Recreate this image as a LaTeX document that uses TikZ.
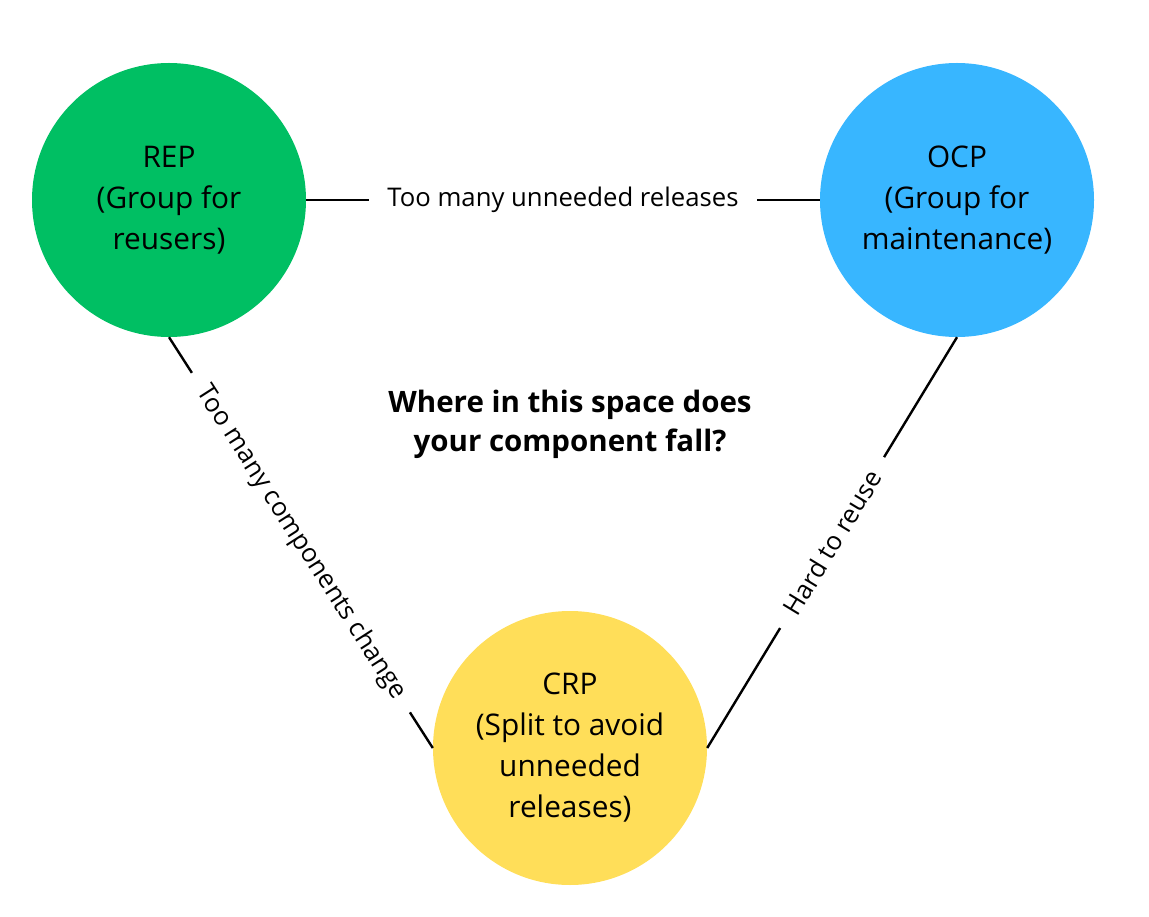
\documentclass[tikz,border=0pt]{standalone}
\usepackage{fontspec}
\setmainfont{Open Sans}
\definecolor{repgreen}{HTML}{00BF63}
\definecolor{ocpblue}{HTML}{38B6FF}
\definecolor{crpyellow}{HTML}{FFDE59}
\tikzset{
  principle/.style={circle, minimum size=274pt, inner sep=0pt, align=center,
    font=\fontsize{29.8}{41}\selectfont},
  link/.style={line width=2.4pt, black},
  linklabel/.style={fill=white, inner xsep=18pt, inner ysep=4pt,
    font=\fontsize{25.7}{30}\selectfont},
  question/.style={align=center, font=\fontsize{29.5}{39}\selectfont\bfseries}
}
\begin{document}
\begin{tikzpicture}[x=1pt,y=-1pt]
\useasboundingbox (0,0) rectangle (1149,917);
\node[principle, fill=repgreen] (rep) at (169,200) {REP\\(Group for\\reusers)};
\node[principle, fill=ocpblue] (ocp) at (957,200) {OCP\\(Group for\\maintenance)};
\node[principle, fill=crpyellow] (crp) at (570,748) {CRP\\(Split to avoid\\unneeded\\releases)};
\draw[link] (rep.east) -- node[linklabel] (l1) {Too many unneeded releases} (ocp.west);
\draw[link] (rep.south) -- node[linklabel, sloped] (l2) {Too many components change} (crp.west);
\draw[link] (crp.east) -- node[linklabel, sloped] (l3) {Hard to reuse} (ocp.south);
\node[question] (q) at (570,424) {Where in this space does\\your component fall?};
\end{tikzpicture}
\end{document}
